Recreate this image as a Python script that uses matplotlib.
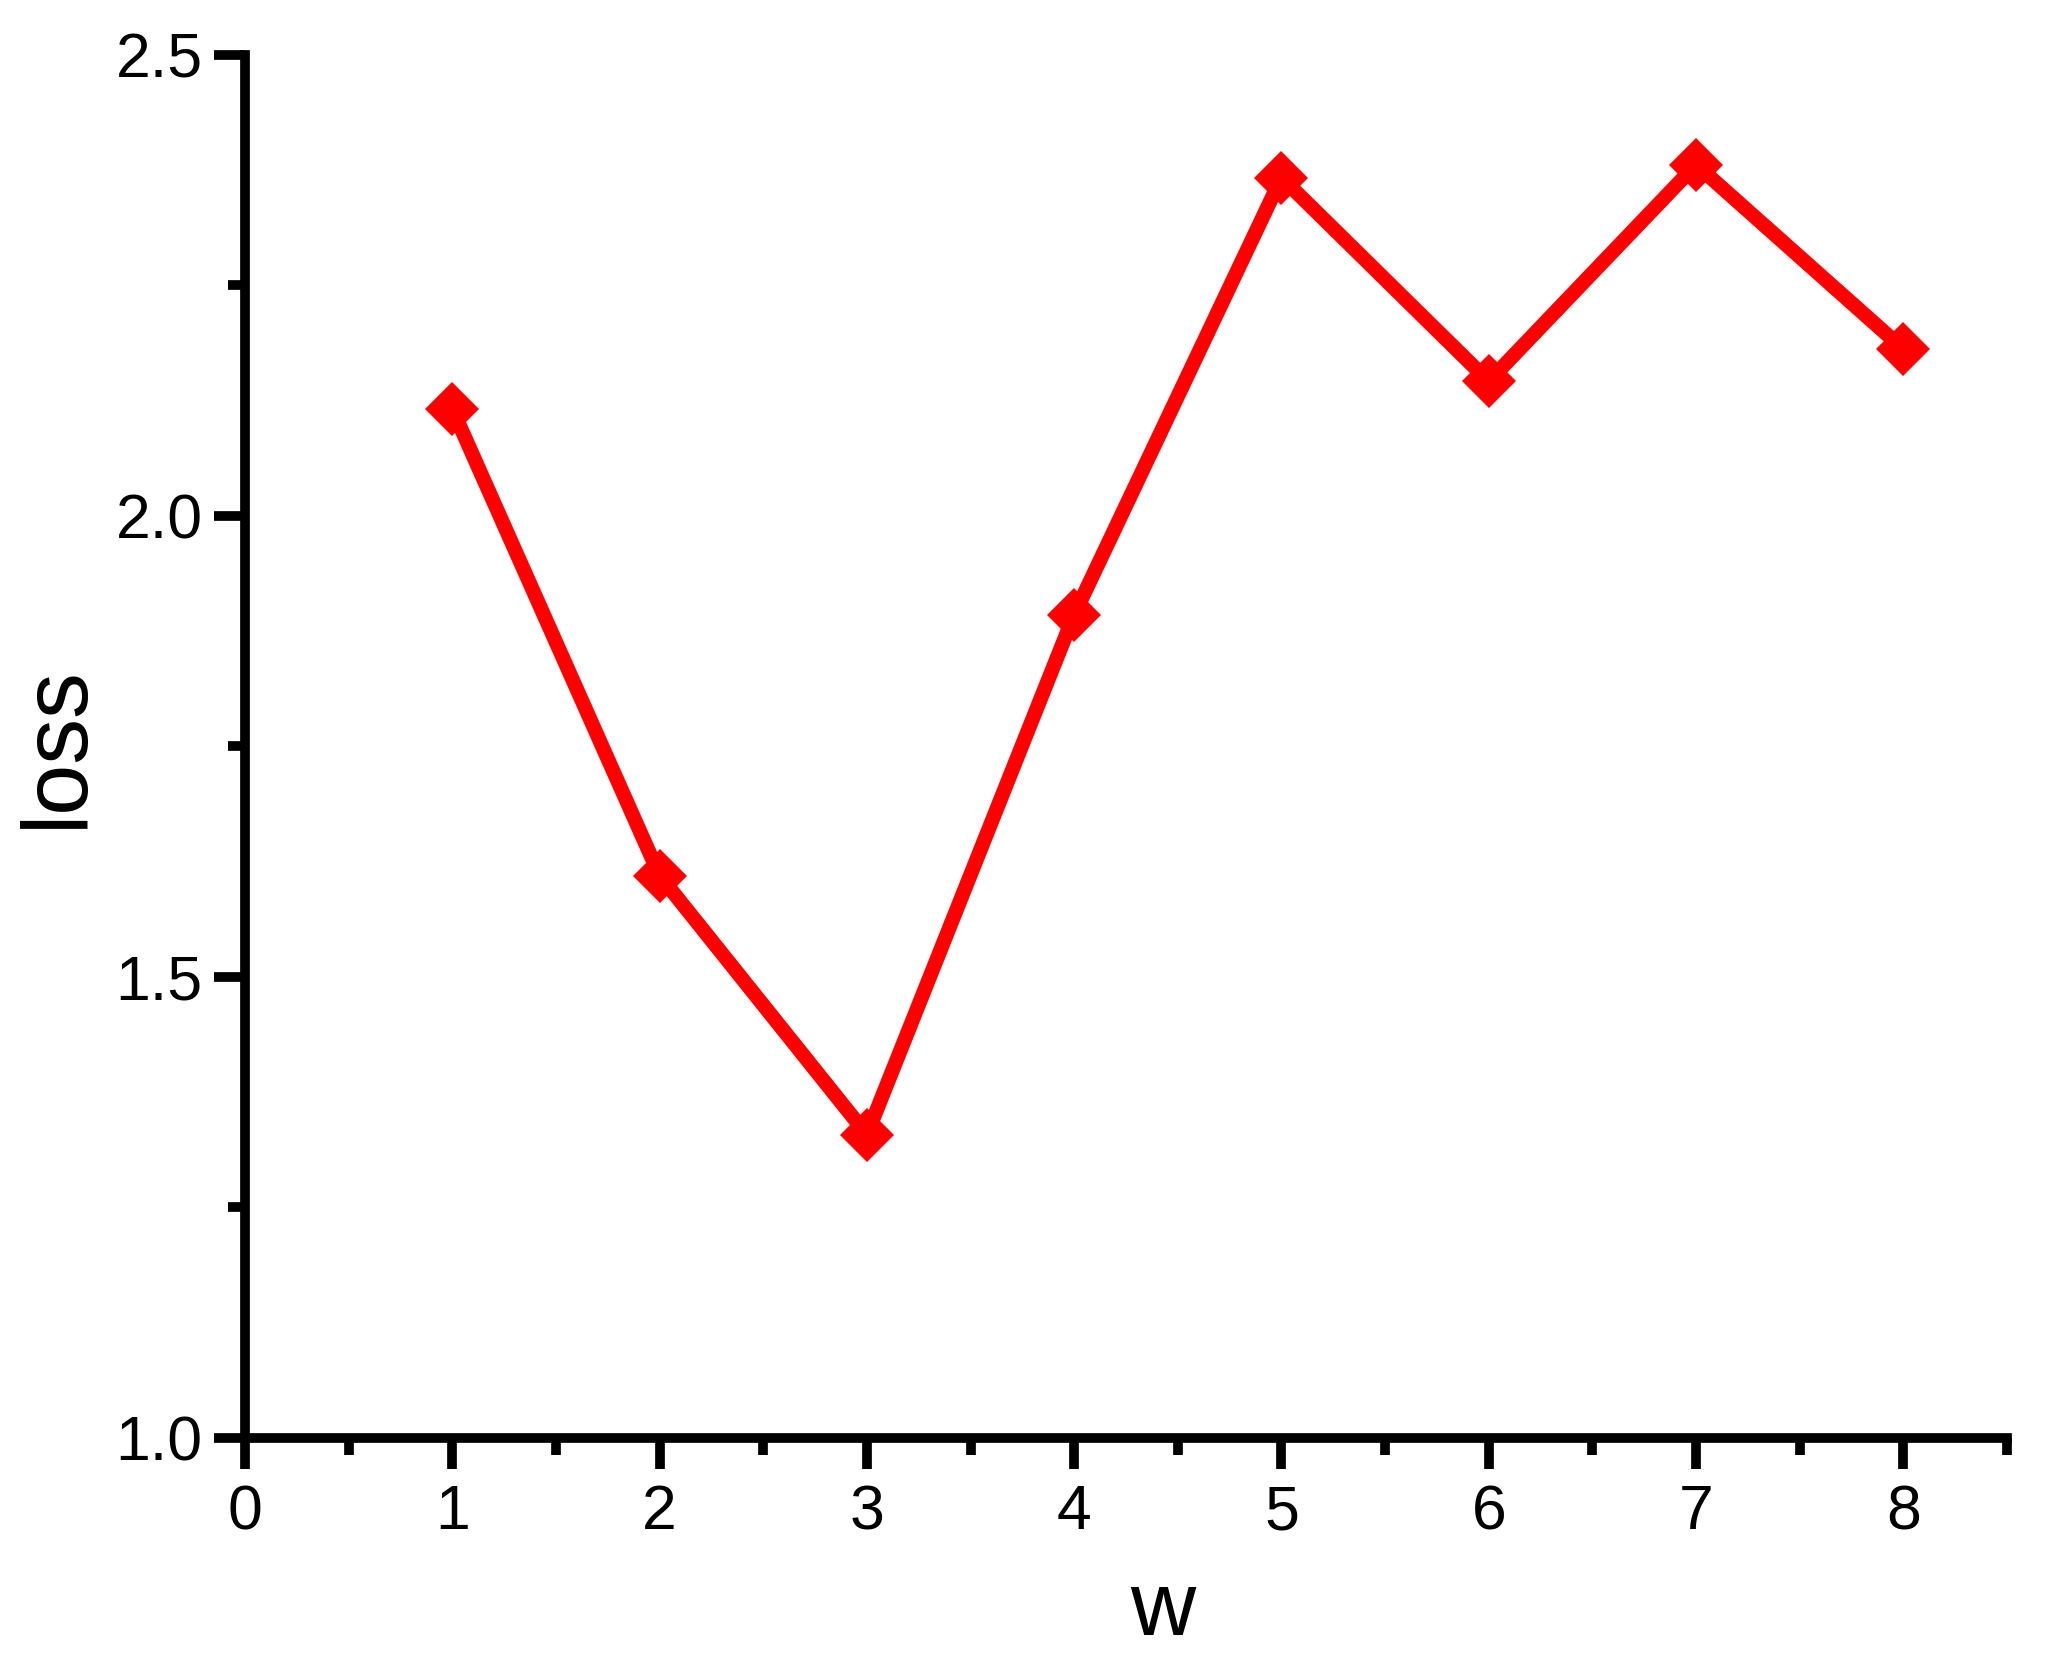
import matplotlib
matplotlib.use("Agg")
import matplotlib.pyplot as plt
from matplotlib.ticker import MultipleLocator, FormatStrFormatter

plt.rcParams['font.family'] = ['Liberation Sans', 'DejaVu Sans']

w_values = [1, 2, 3, 4, 5, 6, 7, 8]
loss_values = [2.116, 1.610, 1.329, 1.893, 2.367, 2.146, 2.381, 2.181]

fig = plt.figure(figsize=(20.61, 16.75), dpi=100)
ax = fig.add_axes([0.1189, 0.1415, 0.8549, 0.8257])

ax.plot(w_values, loss_values, color='#ff0000', linewidth=10.5,
        marker='D', markersize=28, markeredgewidth=0, solid_joinstyle='miter')

ax.set_xlim(0, 8.5)
ax.set_ylim(1.0, 2.5)
ax.xaxis.set_major_locator(MultipleLocator(1))
ax.xaxis.set_minor_locator(MultipleLocator(0.5))
ax.yaxis.set_major_locator(MultipleLocator(0.5))
ax.yaxis.set_minor_locator(MultipleLocator(0.25))
ax.yaxis.set_major_formatter(FormatStrFormatter('%.1f'))

for s in ['top', 'right']:
    ax.spines[s].set_visible(False)
for s in ['left', 'bottom']:
    ax.spines[s].set_linewidth(7)
    ax.spines[s].set_capstyle('projecting')

ax.tick_params(which='major', direction='out', length=22.5, width=7,
               labelsize=45, pad=8)
ax.tick_params(which='minor', direction='out', length=12.5, width=7)
ax.tick_params(axis='x', which='major', pad=10)

ax.set_xlabel('w', fontsize=65)
ax.set_ylabel('loss', fontsize=66)
ax.xaxis.set_label_coords(0.521, -0.095)
ax.yaxis.set_label_coords(-0.082, 0.5)

fig.savefig('out.png', dpi=100)
